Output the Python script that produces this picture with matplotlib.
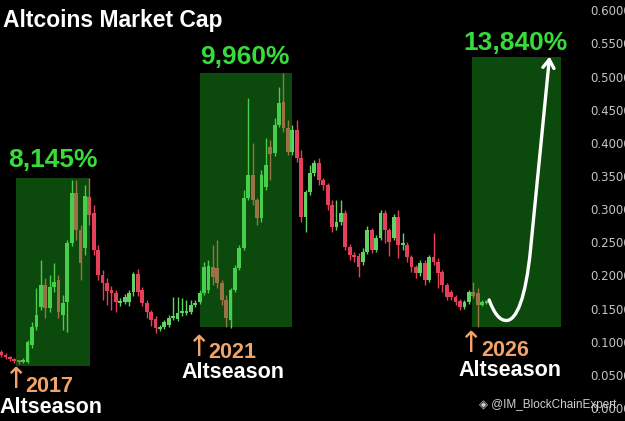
import numpy as np
import matplotlib
matplotlib.use("Agg")
import matplotlib.pyplot as plt
from matplotlib.patches import Rectangle, FancyArrowPatch
from matplotlib.path import Path

# candle data (altcoin market cap, trillions)
opens = [.084, .080, .077, .074, .070, .069, .069, .095, .122, .152,
         .185, .151, .182, .193, .140, .160, .249, .324, .268, .241,
         .318, .294, .238, .201, .189, .178, .173, .158, .160, .160,
         .175, .202, .178, .158, .145, .134, .119, .122, .125, .136,
         .134, .143, .143, .145, .155, .160, .173, .178, .213, .211,
         .189, .163, .133, .178, .211, .241, .317, .351, .314, .287,
         .333, .394, .385, .427, .461, .422, .386, .419, .377, .288,
         .326, .354, .369, .344, .336, .306, .273, .280, .294, .243,
         .231, .229, .220, .235, .268, .238, .256, .294, .268, .256,
         .288, .246, .246, .228, .213, .204, .219, .193, .228, .220,
         .205, .185, .175, .167, .161, .152, .160, .175, .173, .155,
         .158]
closes = [.080, .077, .074, .071, .069, .072, .100, .122, .140, .185,
          .151, .182, .190, .145, .158, .249, .324, .268, .219, .320,
          .291, .238, .201, .189, .176, .173, .160, .160, .167, .173,
          .202, .175, .158, .145, .133, .121, .122, .130, .136, .137,
          .143, .145, .146, .155, .158, .173, .213, .214, .198, .189,
          .163, .136, .178, .211, .241, .317, .351, .314, .287, .351,
          .366, .383, .427, .460, .422, .386, .419, .377, .288, .326,
          .354, .369, .344, .336, .306, .273, .280, .294, .243, .231,
          .228, .213, .235, .268, .238, .256, .294, .268, .250, .288,
          .246, .249, .228, .213, .204, .219, .193, .228, .220, .204,
          .185, .167, .167, .160, .152, .160, .175, .169, .155, .160,
          .160]
highs = [.087, .083, .078, .075, .072, .075, .103, .130, .181, .223,
         .196, .201, .219, .201, .170, .253, .344, .344, .276, .336,
         .347, .306, .246, .208, .196, .184, .178, .166, .172, .178,
         .205, .210, .182, .163, .148, .139, .125, .133, .140, .167,
         .167, .166, .163, .163, .163, .178, .220, .223, .246, .253,
         .193, .170, .181, .216, .246, .329, .467, .400, .317, .359,
         .407, .404, .437, .484, .505, .434, .427, .434, .389, .329,
         .366, .374, .377, .347, .339, .314, .314, .314, .299, .247,
         .235, .234, .241, .274, .271, .261, .299, .299, .271, .293,
         .299, .264, .250, .231, .216, .223, .223, .231, .264, .226,
         .208, .189, .178, .170, .164, .163, .178, .190, .181, .163,
         .163]
lows = [.077, .074, .071, .068, .066, .068, .068, .090, .118, .148,
        .136, .145, .175, .136, .118, .115, .244, .253, .193, .231,
        .276, .231, .193, .163, .155, .148, .145, .154, .157, .154,
        .169, .169, .154, .136, .124, .113, .116, .119, .122, .133,
        .131, .139, .140, .142, .152, .157, .170, .173, .185, .181,
        .155, .122, .121, .175, .208, .238, .314, .306, .276, .280,
        .329, .344, .380, .424, .416, .382, .382, .371, .280, .265,
        .321, .350, .336, .329, .299, .265, .268, .276, .238, .223,
        .220, .198, .216, .232, .234, .235, .253, .249, .229, .253,
        .226, .238, .220, .205, .196, .199, .185, .190, .216, .181,
        .175, .163, .163, .155, .148, .149, .157, .166, .122, .154,
        .157]

# altseason boxes (candle index / value)
box_left = [3.4, 45.1, 106.8]
box_right = [20.2, 66.0, 126.8]
box_bottom = [0.063, 0.122, 0.122]
box_top = [0.347, 0.505, 0.529]
gain_labels = ["8,145%", "9,960%", "13,840%"]
gain_pos = [(11.8, 0.374), (55.3, 0.529), (116.6, 0.551)]
years = ["2017", "2021", "2026"]
year_arrow_pos = [(3.2, 0.042), (44.7, 0.091), (106.3, 0.096)]
year_text_pos = [(5.4, 0.033), (46.9, 0.084), (108.8, 0.087)]
season_pos = [(11.3, 0.0015), (52.6, 0.054), (115.4, 0.057)]

# projected move (drawn path)
proj_start = (110.6, 0.163)
proj_bottom = (114.5, 0.132)
proj_mid = (120.0, 0.240)
proj_end = (124.3, 0.530)

GREEN = "#5fd463"
RED = "#e4405a"
BG = "black"
FONT = ["Liberation Sans", "DejaVu Sans"]

fig = plt.figure(figsize=(6.25, 4.21), dpi=100, facecolor=BG)
ax = fig.add_axes([0, 0, 565 / 625, 1], facecolor=BG)

x = np.arange(len(opens))
o = np.array(opens)
c = np.array(closes)
up = c >= o
cols = np.where(up, GREEN, RED)

ax.vlines(x, lows, highs, colors=cols, lw=1.0, zorder=2)
body_h = np.maximum(np.abs(c - o), 0.003)
ax.bar(x, body_h, bottom=np.minimum(o, c), width=0.86, color=cols, zorder=2, lw=0)

for i in range(3):
    ax.add_patch(Rectangle((box_left[i], box_bottom[i]), box_right[i] - box_left[i],
                           box_top[i] - box_bottom[i], facecolor="#1ec823",
                           alpha=0.37, lw=0, zorder=3))
    ax.text(*gain_pos[i], gain_labels[i], color="#38dc3a", fontsize=19,
            fontweight="bold", ha="center", va="center", zorder=5, family=FONT)
    ax.text(*year_arrow_pos[i], "\u2191", color="#f2a36a", fontsize=21,
            ha="center", va="center", family="DejaVu Sans", zorder=5)
    ax.text(*year_text_pos[i], years[i], color="#f2a36a", fontsize=15.5,
            fontweight="bold", ha="left", va="center", zorder=5, family=FONT)
    ax.text(*season_pos[i], "Altseason", color="white", fontsize=15.5,
            fontweight="bold", ha="center", va="center", zorder=5, family=FONT)

verts = [proj_start,
         (111.8, 0.142), (113.0, 0.132), proj_bottom,
         (116.8, 0.132), (118.9, 0.165), proj_mid,
         proj_end]
codes = [Path.MOVETO, Path.CURVE4, Path.CURVE4, Path.CURVE4,
         Path.CURVE4, Path.CURVE4, Path.CURVE4, Path.LINETO]
arrow = FancyArrowPatch(path=Path(verts, codes), arrowstyle="->,head_length=6,head_width=4",
                        color="white", lw=2.4, zorder=6, capstyle="round")
ax.add_patch(arrow)

ax.set_xlim(-0.25, 127.8)
ax.set_ylim(-0.0196, 0.6154)
ax.set_yticks(np.arange(0, 0.601, 0.05))
ax.yaxis.set_major_formatter(matplotlib.ticker.FormatStrFormatter("%.4f"))
ax.yaxis.tick_right()
ax.tick_params(axis="y", length=0, pad=18, labelcolor="#c4c4c4", labelsize=8.5)
ax.set_xticks([])
for s in ax.spines.values():
    s.set_visible(False)

fig.text(3 / 625, 1 - 20 / 421, "Altcoins Market Cap", color="white", fontsize=16.5,
         fontweight="bold", ha="left", va="center", family=FONT)
fig.text(616 / 625, 1 - 405 / 421, "\u25c8 @IM_BlockChainExpert", color="#d0d0d0",
         fontsize=8.5, ha="right", va="center", family=FONT)

fig.savefig("out.png", dpi=100, facecolor=BG)
